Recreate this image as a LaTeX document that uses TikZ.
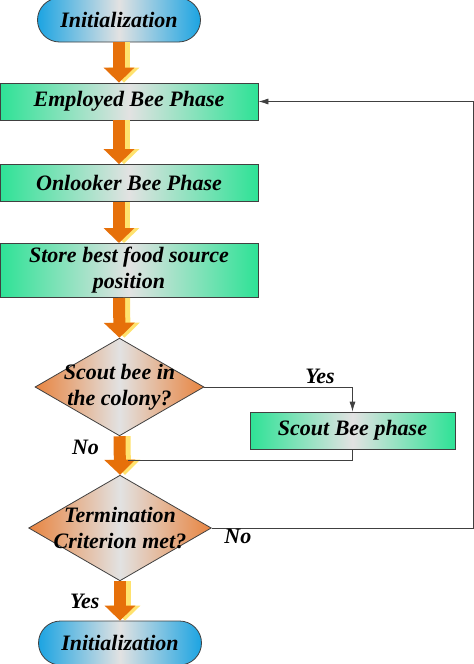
\documentclass[tikz,border=0pt]{standalone}
\usepackage{fontspec}
\setmainfont{Liberation Serif}
\usetikzlibrary{positioning,arrows.meta,shapes.geometric}
\definecolor{colorphase}{RGB}{46,226,150}
\definecolor{colortest} {RGB}{232,132,64}
\definecolor{colorterm} {RGB}{28,164,226}
\definecolor{colormid}  {RGB}{226,226,226}
\definecolor{colorline} {RGB}{64,64,64}
\definecolor{colorfat}  {RGB}{230,112,10}
\definecolor{colorglint}{RGB}{255,226,110}

\begin{document}
\begin{tikzpicture}[
    x=0.5pt, y=-0.5pt,
    font={\fontsize{11}{13}\selectfont\bfseries\itshape},
    base/.style={text=black,align=center,inner sep=2pt,draw=colorline},
    phase/.style={base,rectangle,minimum width=129pt,minimum height=18.5pt,
        left color=colorphase,right color=colorphase,middle color=colormid},
    terminal/.style={base,rectangle,rounded corners=11pt,minimum width=81.5pt,minimum height=22pt,
        left color=colorterm,right color=colorterm,middle color=colormid},
    test/.style={base,diamond,aspect=1.73,inner sep=-2pt,
        left color=colortest,right color=colortest,middle color=colormid},
    fat/.style={line width=6pt,draw=colorfat,-{Triangle[width=15pt,length=7.5pt]},
        preaction={draw=colorglint,line width=6pt,-{Triangle[width=15pt,length=7.5pt]},
            transform canvas={xshift=2.5pt}}},
    flow/.style={thin,draw=colorline,-{Latex[length=5pt,width=3pt]}},
    link/.style={thin,draw=colorline},
]
    \useasboundingbox (0,0) rectangle (474,664);

    % Steps
    \node[terminal] (start) at (119,20) {Initialization};
    \node[phase] (employed) at (129,101.5) {Employed Bee Phase};
    \node[phase] (onlooker) at (129,183) {Onlooker Bee Phase};
    \node[phase,minimum height=26pt] (store) at (129,270.5) {Store best food source\\position};
    \node[test] (scout) at (119.5,387) {Scout bee in\\the colony?};
    \node[phase,minimum width=102.5pt] (scoutphase) at (352.5,430.5) {Scout Bee phase};
    \node[test] (stop) at (120,528) {Termination\\Criterion met?};
    \node[terminal] (finish) at (120,643) {Initialization};

    % Main flow
    \draw[fat] (start.south) -- (start.south |- employed.north);
    \draw[fat] (start.south |- employed.south) -- (start.south |- onlooker.north);
    \draw[fat] (start.south |- onlooker.south) -- (start.south |- store.north);
    \draw[fat] (start.south |- store.south) -- (scout.north);
    \draw[fat] (scout.south) -- node[left=4pt,pos=0.3] {No} (stop.north);
    \draw[fat] (stop.south) -- node[left=4pt] {Yes} (finish.north);

    % Branches
    \coordinate (merge) at (128,460);
    \coordinate (rim) at (473,0);
    \draw[flow] (scout.east) -| node[above=-2pt,pos=0.39] {Yes} (scoutphase.north);
    \draw[link] (scoutphase.south) |- (merge);
    \draw[flow] (stop.east) -- node[below=-3pt,pos=0.1] {No} (stop.east -| rim) |- (employed.east);

\end{tikzpicture}
\end{document}
